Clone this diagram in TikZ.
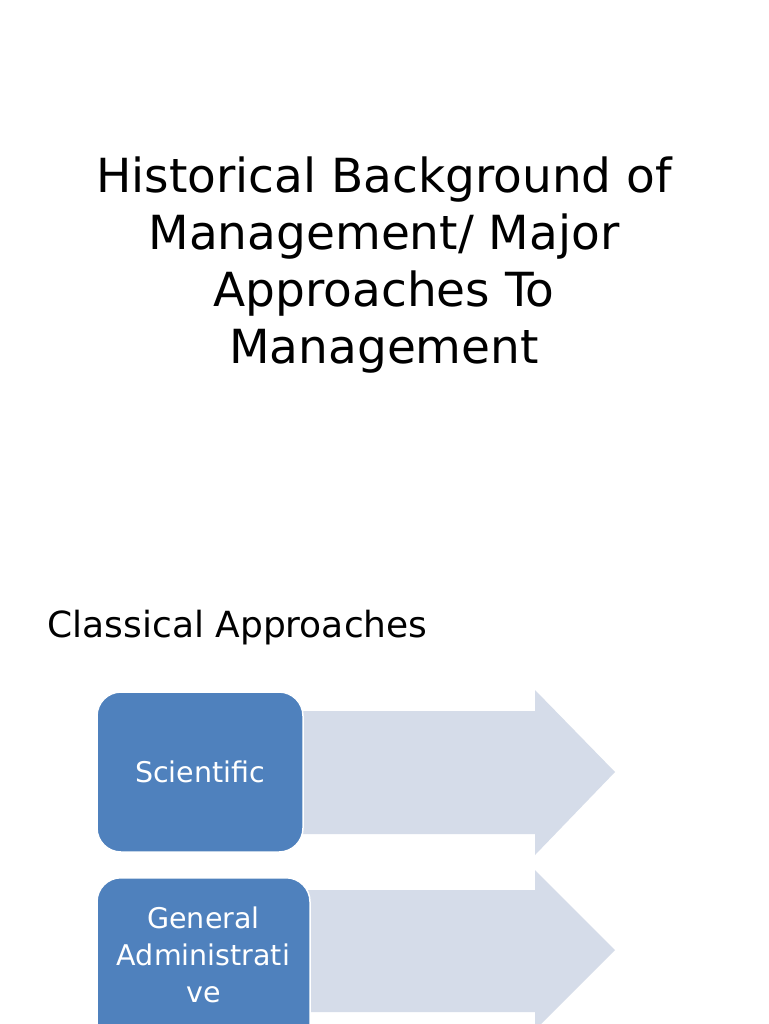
\documentclass[tikz,border=0pt]{standalone}
\usepackage{fontspec}
\setmainfont{DejaVu Sans}
\definecolor{boxblue}{HTML}{4F81BD}
\definecolor{arrowfill}{HTML}{D5DCE9}
\begin{document}
\begin{tikzpicture}[x=1pt,y=-1pt,
  stage/.style={draw=white,line width=1.5pt,fill=boxblue,rounded corners=24pt,text=white,align=center,font=\fontsize{28.5}{36}\selectfont,inner sep=0pt},
  bigarrow/.style={fill=arrowfill,draw=none}]
\useasboundingbox[fill=white] (0,0) rectangle (768,1024);
\node[font=\fontsize{47}{57}\selectfont,align=center] (title) at (384,265) {Historical Background of\\Management/ Major\\Approaches To\\Management};
\node[font=\fontsize{36}{40}\selectfont,anchor=west] (sub) at (44,628) {Classical Approaches};
\fill[bigarrow] (290,711) -- (535,711) -- (535,690) -- (615,772) -- (535,855) -- (535,834) -- (290,834) -- cycle;
\fill[bigarrow] (300,890) -- (535,890) -- (535,870) -- (615,950) -- (535,1030) -- (535,1012) -- (300,1012) -- cycle;
\node[stage,minimum width=206pt,minimum height=160pt] (sci) at (200,772) {Scientific};
\node[stage,minimum width=213pt,minimum height=180pt,anchor=north] (gen) at (203.5,877) {};
\node[text=white,align=center,font=\fontsize{28.5}{37}\selectfont] (gent) at (203.5,955) {General\\Administrati\\ve};
\end{tikzpicture}
\end{document}
